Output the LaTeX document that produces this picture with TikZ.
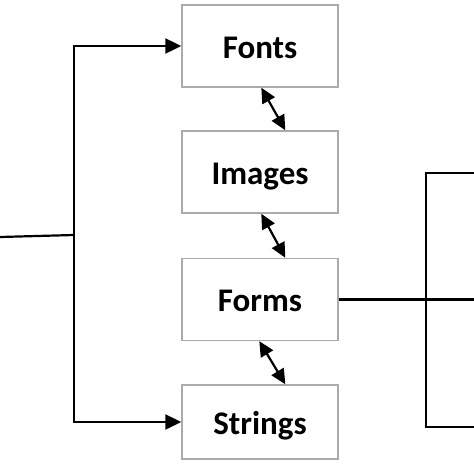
\documentclass[tikz,border=0pt]{standalone}
\usepackage{fontspec}
\setmainfont{Carlito}
\usetikzlibrary{arrows.meta}
\begin{document}
\begin{tikzpicture}[x=1pt,y=-1pt,
  box/.style={draw=black!33,line width=1.4pt,fill=white,minimum width=156pt,minimum height=82pt,inner sep=0pt,text height=24pt,text depth=0pt,font=\fontsize{33}{33}\selectfont\bfseries},
  conn/.style={line width=2.2pt,draw=black},
  tip/.style={-{Triangle[length=16pt,width=15pt]}},
  dtip/.style={{Triangle[length=15pt,width=14pt]}-{Triangle[length=15pt,width=14pt]}}]
\useasboundingbox (0,0) rectangle (474,474);
\node[box] (Fonts) at (260,46) {Fonts};
\node[box] (Images) at (260,172) {Images};
\node[box] (Forms) at (260,299.5) {Forms};
\node[box,minimum height=74pt] (Strings) at (260,422) {Strings};
\coordinate (L) at (0,237);
\coordinate (J) at (74,235);
\draw[conn] (L) -- (J);
\draw[conn,tip] (J) |- (Fonts.west);
\draw[conn,tip] (J) |- (Strings.west);
\draw[conn,dtip] ([xshift=80pt]Fonts.south west) -- ([xshift=104pt]Images.north west);
\draw[conn,dtip] ([xshift=80pt]Images.south west) -- ([xshift=104pt]Forms.north west);
\draw[conn,dtip] ([xshift=78pt]Forms.south west) -- ([xshift=104pt]Strings.north west);
\coordinate (R) at (474,299.5);
\coordinate (RT) at (474,173);
\coordinate (RB) at (474,427);
\draw[conn] (Forms.east) -- (R);
\draw[conn] (RT) -- (426,173) -- (426,427) -- (RB);
\end{tikzpicture}
\end{document}
